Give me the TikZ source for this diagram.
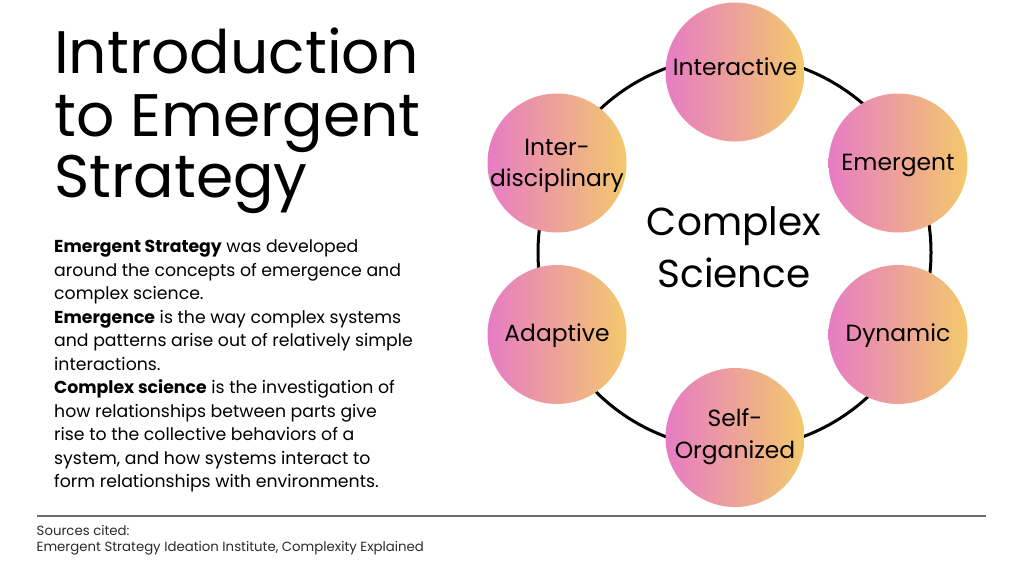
\documentclass[tikz,border=0pt]{standalone}
\usepackage{fontspec}
\setmainfont{Poppins}
\definecolor{bpink}{HTML}{E77CC4}
\definecolor{borange}{HTML}{F3C96C}
\definecolor{rulegray}{HTML}{6B6B6B}
\definecolor{foottext}{HTML}{2B2B2B}
\begin{document}
\begin{tikzpicture}[x=1pt,y=-1pt,
  bubble/.style={circle, minimum size=139pt, inner sep=0pt, draw=none, left color=bpink, right color=borange},
  ctext/.style={font=\fontsize{23.4}{31.6}\selectfont, anchor=base, inner sep=0pt, text=black},
  bigtext/.style={font=\fontsize{39}{52}\selectfont, anchor=base, inner sep=0pt, text=black},
  titletext/.style={font=\fontsize{60}{62}\selectfont, anchor=base west, inner sep=0pt, text=black},
  bodytext/.style={font=\fontsize{17.3}{23.5}\selectfont, anchor=base west, inner sep=0pt, text=black},
  foot/.style={font=\fontsize{13.3}{17}\selectfont, anchor=base west, inner sep=0pt, text=foottext}
]
\useasboundingbox[fill=white] (0,0) rectangle (1024,574);
% ring
\coordinate (ringc) at (734.5,252.5);
\draw[line width=3pt, black] (ringc) circle[radius=196.5];
% bubbles
\node[bubble] (interactive) at (735,72) {};
\node[bubble] (emergent) at (898,163) {};
\node[bubble] (dynamic) at (898,334.5) {};
\node[bubble] (selforg) at (735,437.5) {};
\node[bubble] (adaptive) at (557,334.5) {};
\node[bubble] (interdis) at (557,163) {};
% bubble labels
\node[ctext] (l-interactive) at (735,75) {Interactive};
\node[ctext] (l-emergent) at (898,170) {Emergent};
\node[ctext] (l-dynamic) at (898,341.7) {Dynamic};
\node[ctext] (l-adaptive) at (557,341.7) {Adaptive};
\node[ctext] (l-self1) at (735,426.7) {Self-};
\node[ctext] (l-self2) at (735,458) {Organized};
\node[ctext] (l-inter1) at (557,155) {Inter-};
\node[ctext] (l-inter2) at (557,186) {disciplinary};
% centre
\node[bigtext] (cs1) at (734,235) {Complex};
\node[bigtext] (cs2) at (734,287) {Science};
% title
\node[titletext] (t1) at (54,73) {Introduction};
\node[titletext] (t2) at (54,136.5) {to Emergent};
\node[titletext] (t3) at (54,197) {Strategy};
% body
\node[bodytext] (b1) at (54,252.7) {\textbf{Emergent Strategy} was developed};
\node[bodytext] (b2) at (54,276.2) {around the concepts of emergence and};
\node[bodytext] (b3) at (54,299.7) {complex science.};
\node[bodytext] (b4) at (54,323.2) {\textbf{Emergence} is the way complex systems};
\node[bodytext] (b5) at (54,346.7) {and patterns arise out of relatively simple};
\node[bodytext] (b6) at (54,370.2) {interactions.};
\node[bodytext] (b7) at (54,393.7) {\textbf{Complex science} is the investigation of};
\node[bodytext] (b8) at (54,417.2) {how relationships between parts give};
\node[bodytext] (b9) at (54,440.7) {rise to the collective behaviors of a};
\node[bodytext] (b10) at (54,464.2) {system, and how systems interact to};
\node[bodytext] (b11) at (54,487.7) {form relationships with environments.};
% footer
\coordinate (rulel) at (37,516);
\coordinate (ruler) at (986,516);
\draw[rulegray, line width=1.5pt] (rulel) -- (ruler);
\node[foot] (f1) at (36.5,535) {Sources cited:};
\node[foot] (f2) at (36.5,551.7) {Emergent Strategy Ideation Institute, Complexity Explained};
\end{tikzpicture}
\end{document}
